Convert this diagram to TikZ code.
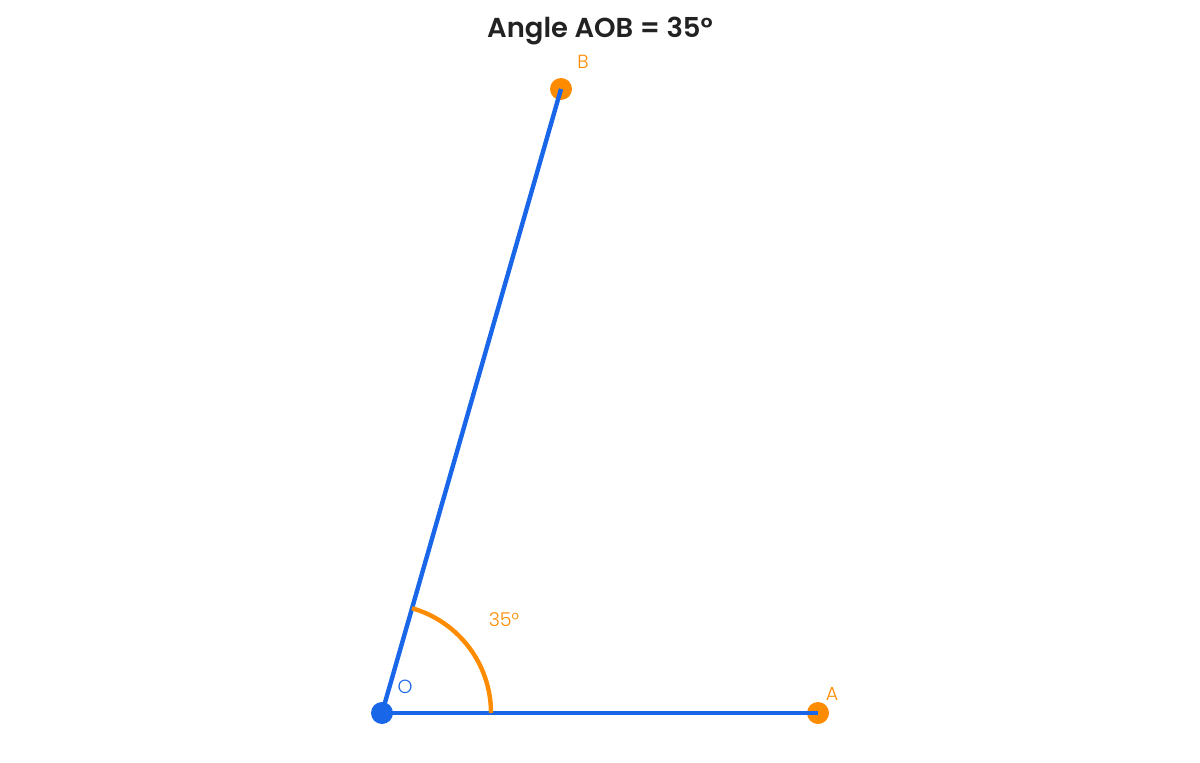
\documentclass[tikz,border=0pt]{standalone}
\usepackage{fontspec}
\setmainfont{Poppins}
\newfontfamily\titlefont{Poppins SemiBold}
\newfontfamily\labelfont{Poppins Light}
\definecolor{rayblue}{HTML}{1A66E8}
\definecolor{markorange}{HTML}{FF8C00}
\definecolor{titlegray}{HTML}{222222}
\begin{document}
\begin{tikzpicture}[x=0.5pt,y=0.5pt,
        ray/.style={rayblue, line width=2.2pt},
        dot/.style={circle, fill=#1, inner sep=0pt, minimum size=11pt},
        lbl/.style={text=#1, font=\labelfont\fontsize{9.5}{10}\selectfont, inner sep=0pt}]
        \useasboundingbox (0,0) rectangle (1200,762);
        \node (title) at (600,731) [text=titlegray, font=\titlefont\fontsize{13.7}{16}\selectfont] {Angle AOB = 35°};
        % points
        \node (A) at (818,49) [dot=markorange] {};
        \node (B) at (561,673) [dot=markorange] {};
        \node (O) at (382,49) [dot=rayblue] {};
        % rays
        \draw[ray] (O.center) -- (A.center);
        \draw[ray] (O.center) -- (B.center);
        % angle mark
        \draw[markorange, line width=2.2pt] (O.center) ++(0:109) arc[start angle=0, end angle=74, radius=54.5pt];
        \node (lblA) at (832,68) [lbl=markorange] {A};
        \node (lblB) at (583,700) [lbl=markorange] {B};
        \node (lblO) at (405,75) [lbl=rayblue] {O};
        \node (lblang) at (504,142) [lbl=markorange] {35°};
\end{tikzpicture}
\end{document}
